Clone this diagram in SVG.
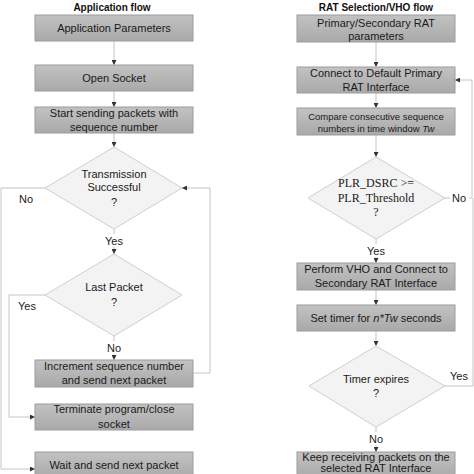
<svg xmlns="http://www.w3.org/2000/svg" width="474" height="474" viewBox="0 0 474 474">
<defs>
<linearGradient id="g" x1="0" y1="0" x2="0" y2="1">
<stop offset="0" stop-color="#c2c2c2"/>
<stop offset="1" stop-color="#a9a9a9"/>
</linearGradient>
<marker id="a" viewBox="0 0 6 6" refX="6" refY="3" markerWidth="5" markerHeight="5" orient="auto" markerUnits="userSpaceOnUse">
<path d="M0,0 L6,3 L0,6 Z" fill="#333"/>
</marker>
</defs>
<style>
.box{fill:url(#g);stroke:#9c9c9c;stroke-width:1}
.dia{fill:#f3f3f3;stroke:#cfcfcf;stroke-width:1}
.t{font-family:"Liberation Sans",Arial,sans-serif;font-size:11px;fill:#1a1a1a;text-anchor:middle}
.s{font-size:9.5px}
.serif{font-family:"Liberation Serif","Times New Roman",serif;font-size:12px}
.title{font-family:"Liberation Sans",Arial,sans-serif;font-size:10px;font-weight:bold;fill:#111;text-anchor:middle}
.c{fill:none;stroke:#c4c4c4;stroke-width:1}
.ar{marker-end:url(#a)}
</style>
<rect width="474" height="474" fill="#fff"/>
<text class="title" x="112" y="11">Application flow</text>
<text class="title" x="376" y="11">RAT Selection/VHO flow</text>

<g id="connectors">
<path class="c ar" d="M114,41 V65"/>
<path class="c ar" d="M114,91 V107"/>
<path class="c ar" d="M114,133 V147"/>
<path class="c" d="M114,229 V234"/>
<path class="c ar" d="M114,247 V254"/>
<path class="c" d="M114,336 V341"/>
<path class="c ar" d="M114,354 V360"/>
<path class="c ar" d="M45,188 H1 V469 H35"/>
<path class="c ar" d="M45,295 H9 V417 H35"/>
<path class="c ar" d="M193,373 H210 V188 H182"/>
<path class="c ar" d="M376,42 V67"/>
<path class="c ar" d="M376,93 V108"/>
<path class="c ar" d="M376,135 V157"/>
<path class="c" d="M376,239 V244"/>
<path class="c ar" d="M376,257 V263"/>
<path class="c ar" d="M376,290 V305"/>
<path class="c ar" d="M376,331 V346"/>
<path class="c" d="M376,427 V432"/>
<path class="c ar" d="M376,445 V452"/>
<path class="c" d="M445,198 H450"/>
<path class="c ar" d="M469,198 H472 V80 H455"/>
<path class="c" d="M445,386 H473 V198"/>
<text class="t" x="26" y="203">No</text>
<text class="t" x="114" y="245">Yes</text>
<text class="t" x="27" y="310">Yes</text>
<text class="t" x="114" y="352">No</text>
<text class="t" x="459" y="202">No</text>
<text class="t" x="376" y="255">Yes</text>
<text class="t" x="459" y="380">Yes</text>
<text class="t" x="376" y="443">No</text>
</g>

<g id="app-params">
<rect class="box" x="35" y="15" width="158" height="26"/>
<text class="t" x="114" y="32">Application Parameters</text>
</g>
<g id="open-socket">
<rect class="box" x="35" y="65" width="158" height="26"/>
<text class="t" x="114" y="82">Open Socket</text>
</g>
<g id="start-sending">
<rect class="box" x="35" y="107" width="158" height="26"/>
<text class="t" x="114" y="117">Start sending packets with</text>
<text class="t" x="114" y="131">sequence number</text>
</g>
<g id="tx-success">
<polygon class="dia" points="114,147 182,188 114,229 45,188"/>
<text class="t" x="114" y="178">Transmission</text>
<text class="t" x="114" y="191">Successful</text>
<text class="t" x="114" y="206">?</text>
</g>
<g id="last-packet">
<polygon class="dia" points="114,254 182,295 114,336 45,295"/>
<text class="t" x="114" y="291">Last Packet</text>
<text class="t" x="114" y="306">?</text>
</g>
<g id="increment">
<rect class="box" x="35" y="360" width="158" height="27"/>
<text class="t" x="114" y="370">Increment sequence number</text>
<text class="t" x="114" y="384">and send next packet</text>
</g>
<g id="terminate">
<rect class="box" x="35" y="404" width="158" height="26"/>
<text class="t" x="114" y="413">Terminate program/close</text>
<text class="t" x="114" y="428">socket</text>
</g>
<g id="wait">
<rect class="box" x="35" y="452" width="158" height="27"/>
<text class="t" x="114" y="469">Wait and send next packet</text>
</g>

<g id="rat-params">
<rect class="box" x="297" y="15" width="158" height="27"/>
<text class="t" x="376" y="27">Primary/Secondary RAT</text>
<text class="t" x="376" y="40">parameters</text>
</g>
<g id="connect-default">
<rect class="box" x="297" y="67" width="158" height="26"/>
<text class="t" x="376" y="77">Connect to Default Primary</text>
<text class="t" x="376" y="91">RAT Interface</text>
</g>
<g id="compare">
<rect class="box" x="297" y="108" width="158" height="27"/>
<text class="t s" x="376" y="120">Compare consecutive sequence</text>
<text class="t s" x="376" y="132">numbers in time window <tspan font-style="italic">Tw</tspan></text>
</g>
<g id="plr">
<polygon class="dia" points="376,157 445,198 376,239 308,198"/>
<text class="t serif" x="376" y="187">PLR_DSRC &gt;=</text>
<text class="t serif" x="376" y="202">PLR_Threshold</text>
<text class="t serif" x="376" y="216">?</text>
</g>
<g id="perform-vho">
<rect class="box" x="297" y="263" width="158" height="27"/>
<text class="t" x="376" y="273">Perform VHO and Connect to</text>
<text class="t" x="376" y="287">Secondary RAT Interface</text>
</g>
<g id="set-timer">
<rect class="box" x="297" y="305" width="158" height="26"/>
<text class="t" x="376" y="322">Set timer for <tspan font-style="italic">n*Tw</tspan> seconds</text>
</g>
<g id="timer-expires">
<polygon class="dia" points="376,346 445,386 376,427 309,386"/>
<text class="t" x="376" y="383">Timer expires</text>
<text class="t" x="376" y="397">?</text>
</g>
<g id="keep-receiving">
<rect class="box" x="297" y="452" width="158" height="27"/>
<text class="t" x="376" y="461">Keep receiving packets on the</text>
<text class="t" x="376" y="472">selected RAT Interface</text>
</g>
</svg>
